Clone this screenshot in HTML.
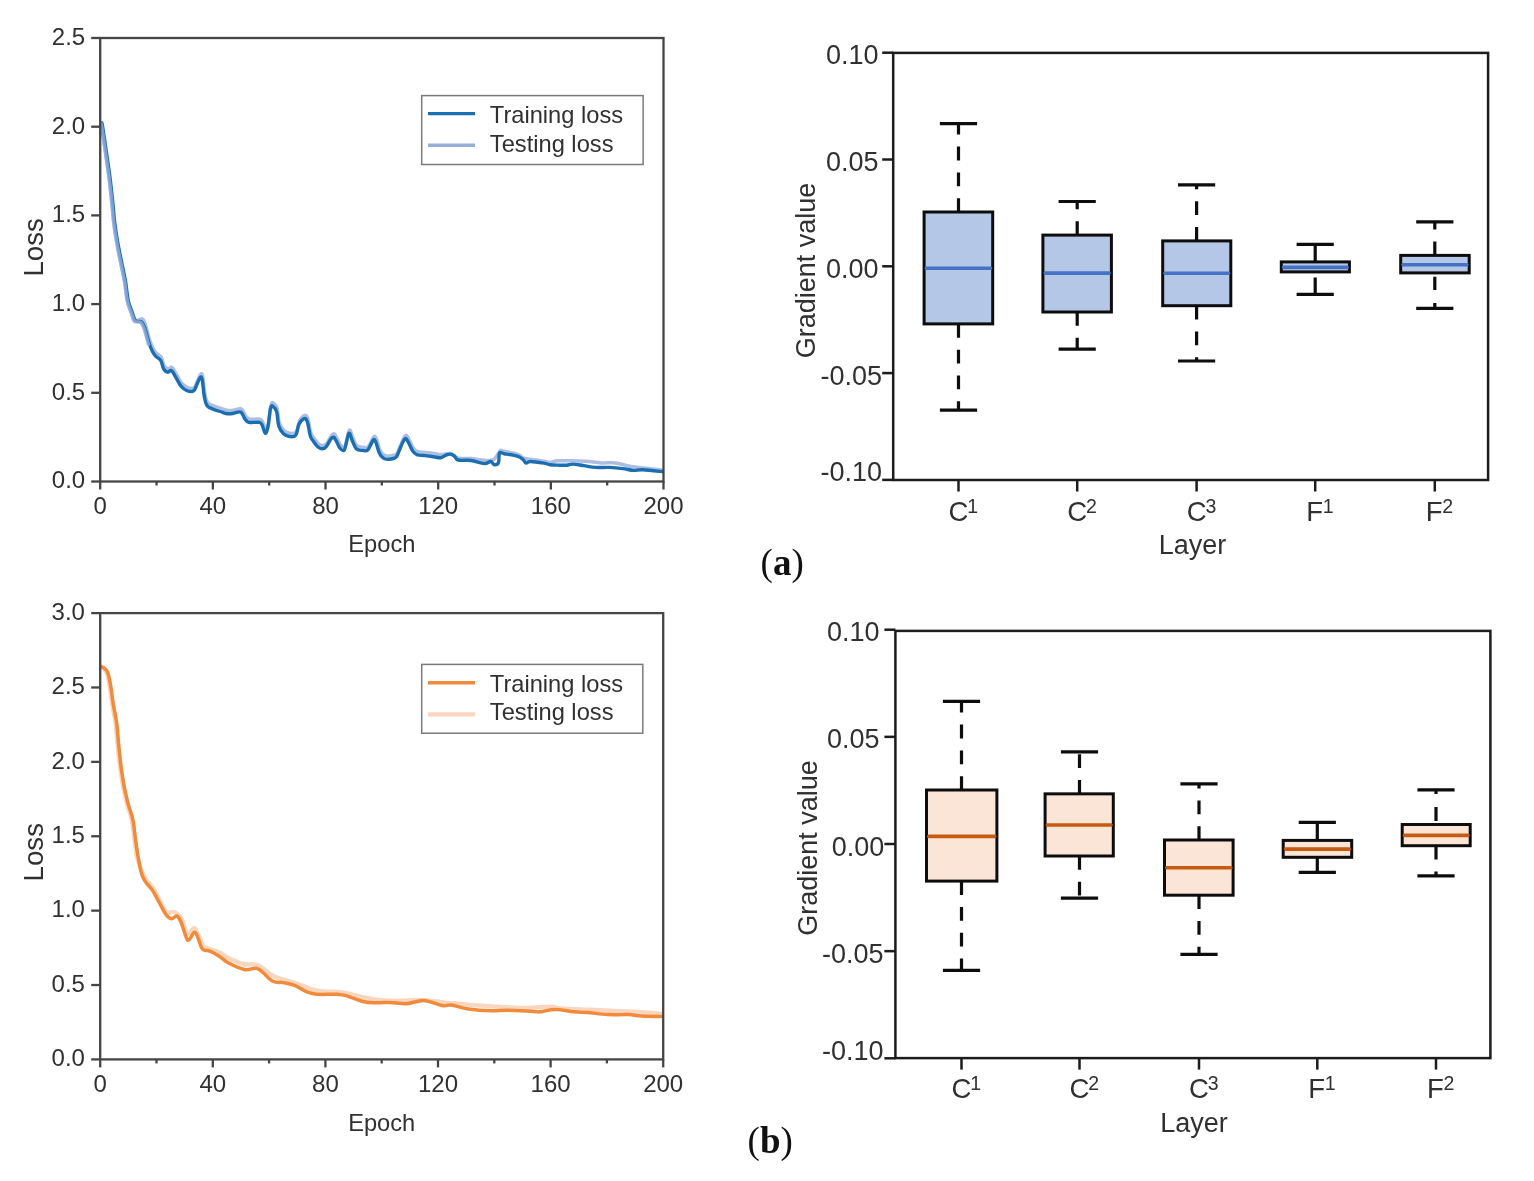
<!DOCTYPE html>
<html><head><meta charset="utf-8"><title>Loss and gradient figure</title>
<style>html,body{margin:0;padding:0;background:#fff;}body{width:1534px;height:1181px;overflow:hidden;}svg{display:block;}</style>
</head><body>
<svg width="1534" height="1181" viewBox="0 0 1534 1181" font-family="'Liberation Sans', Arial, Helvetica, sans-serif" fill="#303030">
<rect width="1534" height="1181" fill="#fff"/>
<clipPath id="c1"><rect x="100.2" y="36" width="563.3" height="444.5"/></clipPath>
<g clip-path="url(#c1)" fill="none" stroke-linejoin="round" stroke-linecap="round">
<path d="M100.3,125.2 C100.5,125.24 100.5,120.7 101.4,125.4 C102.3,130.1 103.88,141.53 105.3,151.3 C106.72,161.07 108.02,169.46 109.3,179.7 C110.58,189.94 111.61,200.53 112.4,208.2 C113.19,215.87 112.96,216.36 113.7,222.3 C114.44,228.24 115.28,234.13 116.5,241.2 C117.72,248.27 119.04,254.27 120.5,261.6 C121.96,268.93 123.38,274.83 124.6,281.9 C125.82,288.97 126.08,295.28 127.3,300.9 C128.52,306.52 130.07,309.45 131.4,313.1 C132.73,316.75 132.76,320.17 134.7,321.2 C136.64,322.23 140.24,318.03 142.2,318.8 C144.16,319.57 144.25,321.61 145.6,325.5 C146.95,329.39 148.37,336.3 149.7,340.4 C151.03,344.5 151.88,346.09 153,348.3 C154.12,350.51 154.41,351.06 155.9,352.7 C157.39,354.34 159.82,355.08 161.3,357.4 C162.78,359.72 162.88,363.51 164.1,365.6 C165.32,367.69 166.64,368.64 168.1,369 C169.56,369.36 170.49,366.27 172.2,367.6 C173.91,368.93 175.89,373.59 177.6,376.4 C179.31,379.21 179.99,381.24 181.7,383.2 C183.41,385.16 184.9,386.45 187.1,387.3 C189.3,388.15 192.08,388.89 193.9,387.9 C195.72,386.91 195.99,384.23 197.2,381.8 C198.41,379.37 199.61,375.37 200.6,374.4 C201.59,373.43 201.96,373.11 202.7,376.4 C203.44,379.69 203.85,388.06 204.7,392.7 C205.55,397.34 205.69,399.77 207.4,402.2 C209.11,404.63 211.75,405.1 214.2,406.2 C216.65,407.3 218.8,407.56 221,408.3 C223.2,409.04 224.2,409.94 226.4,410.3 C228.6,410.66 230.52,410.55 233.2,410.3 C235.88,410.05 239.1,407.93 241.3,408.9 C243.5,409.87 243.94,413.86 245.4,415.7 C246.86,417.54 246.97,418.49 249.4,419.1 C251.83,419.71 256.58,418.74 258.9,419.1 C261.22,419.46 261.08,419.16 262.3,421.1 C263.52,423.04 264.6,429.41 265.7,429.9 C266.8,430.39 267.43,428.3 268.4,423.8 C269.37,419.3 270.13,408.55 271.1,404.9 C272.07,401.25 272.7,402.78 273.8,403.5 C274.9,404.22 276.23,405.48 277.2,408.9 C278.17,412.32 277.98,418.59 279.2,422.5 C280.42,426.41 282.04,428.66 284,430.6 C285.96,432.54 287.9,433.05 290.1,433.3 C292.3,433.55 294.51,434.2 296.2,432 C297.89,429.8 297.97,424.09 299.5,421.1 C301.03,418.11 303.21,415.87 304.7,415.4 C306.19,414.93 306.68,415.31 307.8,418.5 C308.92,421.69 309.77,429.54 310.9,433.1 C312.03,436.66 312.79,436.41 314.1,438.3 C315.41,440.19 316.71,442.29 318.2,443.6 C319.69,444.91 320.89,445.6 322.4,445.6 C323.91,445.6 324.73,445.65 326.6,443.6 C328.47,441.55 331.02,435.33 332.8,434.2 C334.58,433.07 335.19,435.43 336.5,437.3 C337.81,439.17 338.7,442.82 340.1,444.6 C341.5,446.38 343.17,447.76 344.3,447.2 C345.43,446.64 345.46,444.6 346.4,441.5 C347.34,438.4 348.37,430.76 349.5,430 C350.63,429.24 351.39,434.49 352.7,437.3 C354.01,440.11 354.93,443.82 356.8,445.6 C358.67,447.38 361.03,447 363.1,447.2 C365.17,447.4 366.43,448.48 368.3,446.7 C370.17,444.92 372.1,438.81 373.5,437.3 C374.9,435.79 374.97,436.05 376.1,438.3 C377.23,440.55 378.4,446.79 379.8,449.8 C381.2,452.81 382.21,453.87 383.9,455 C385.59,456.13 386.93,456.28 389.2,456.1 C391.47,455.92 394.63,455.51 396.5,454 C398.37,452.49 398.11,450.89 399.6,447.7 C401.09,444.51 403.31,438.17 404.8,436.3 C406.29,434.43 406.41,435.25 407.9,437.3 C409.39,439.35 411.41,445.16 413.1,447.7 C414.79,450.24 415.03,450.55 417.3,451.4 C419.57,452.25 422.69,452.02 425.7,452.4 C428.71,452.78 431.19,453.12 434,453.5 C436.81,453.88 438.42,454.5 441.3,454.5 C444.18,454.5 446.94,452.83 450,453.5 C453.06,454.17 454.54,457.28 458.3,458.2 C462.06,459.12 466.2,458.22 470.9,458.6 C475.6,458.98 480.24,460.17 484.4,460.3 C488.56,460.43 491.19,461.01 494,459.3 C496.81,457.59 498.16,452.24 500,450.8 C501.84,449.36 501,450.67 504.2,451.3 C507.4,451.93 514.42,453.13 517.8,454.3 C521.18,455.47 520.75,456.9 523,457.8 C525.25,458.7 526.54,458.67 530.3,459.3 C534.06,459.93 540.34,460.76 543.9,461.3 C547.46,461.84 547.67,462.39 550.1,462.3 C552.53,462.21 553.82,461.07 557.4,460.8 C560.98,460.53 564.92,460.71 570,460.8 C575.08,460.89 579.93,460.92 585.6,461.3 C591.27,461.68 596.08,462.61 601.5,462.9 C606.92,463.19 610.37,462.27 615.7,462.9 C621.03,463.53 622.41,465.09 631.1,466.4 C639.79,467.71 658.08,469.52 664,470.2" stroke="#97aedd" stroke-width="3.5" stroke-opacity="0.8"/>
<path d="M101.2,124.6 C101.4,124.64 101.4,120.1 102.3,124.8 C103.2,129.5 104.78,140.93 106.2,150.7 C107.62,160.47 108.92,168.86 110.2,179.1 C111.48,189.34 112.51,199.93 113.3,207.6 C114.09,215.27 113.86,215.76 114.6,221.7 C115.34,227.64 116.18,233.53 117.4,240.6 C118.62,247.67 119.94,253.67 121.4,261 C122.86,268.33 124.28,274.23 125.5,281.3 C126.72,288.37 126.98,294.68 128.2,300.3 C129.42,305.92 130.97,308.85 132.3,312.5 C133.63,316.15 133.91,318.89 135.6,320.6 C137.29,322.31 139.99,320.54 141.7,322 C143.41,323.46 143.75,324.81 145.1,328.7 C146.45,332.59 147.87,339.5 149.2,343.6 C150.53,347.7 151.38,349.29 152.5,351.5 C153.62,353.71 153.91,354.26 155.4,355.9 C156.89,357.54 159.32,358.28 160.8,360.6 C162.28,362.92 162.38,366.71 163.6,368.8 C164.82,370.89 166.14,371.84 167.6,372.2 C169.06,372.56 169.99,369.47 171.7,370.8 C173.41,372.13 175.39,376.79 177.1,379.6 C178.81,382.41 179.49,384.44 181.2,386.4 C182.91,388.36 184.4,389.65 186.6,390.5 C188.8,391.35 191.58,392.09 193.4,391.1 C195.22,390.11 195.49,387.43 196.7,385 C197.91,382.57 199.11,378.57 200.1,377.6 C201.09,376.63 201.46,376.31 202.2,379.6 C202.94,382.89 203.35,391.26 204.2,395.9 C205.05,400.54 205.19,402.97 206.9,405.4 C208.61,407.83 211.25,408.3 213.7,409.4 C216.15,410.5 218.3,410.76 220.5,411.5 C222.7,412.24 223.7,413.14 225.9,413.5 C228.1,413.86 230.02,413.75 232.7,413.5 C235.38,413.25 238.6,411.13 240.8,412.1 C243,413.07 243.44,417.06 244.9,418.9 C246.36,420.74 246.47,421.69 248.9,422.3 C251.33,422.91 256.08,421.94 258.4,422.3 C260.72,422.66 260.58,422.36 261.8,424.3 C263.02,426.24 264.1,432.61 265.2,433.1 C266.3,433.59 266.93,431.5 267.9,427 C268.87,422.5 269.63,411.75 270.6,408.1 C271.57,404.45 272.2,405.98 273.3,406.7 C274.4,407.42 275.73,408.68 276.7,412.1 C277.67,415.52 277.48,421.79 278.7,425.7 C279.92,429.61 281.54,431.86 283.5,433.8 C285.46,435.74 287.4,436.25 289.6,436.5 C291.8,436.75 294.01,437.4 295.7,435.2 C297.39,433 297.47,427.29 299,424.3 C300.53,421.31 302.71,419.07 304.2,418.6 C305.69,418.13 306.18,418.51 307.3,421.7 C308.42,424.89 309.27,432.74 310.4,436.3 C311.53,439.86 312.29,439.61 313.6,441.5 C314.91,443.39 316.21,445.49 317.7,446.8 C319.19,448.11 320.39,448.8 321.9,448.8 C323.41,448.8 324.23,448.85 326.1,446.8 C327.97,444.75 330.52,438.53 332.3,437.4 C334.08,436.27 334.69,438.63 336,440.5 C337.31,442.37 338.2,446.02 339.6,447.8 C341,449.58 342.67,450.96 343.8,450.4 C344.93,449.84 344.96,447.8 345.9,444.7 C346.84,441.6 347.87,433.96 349,433.2 C350.13,432.44 350.89,437.69 352.2,440.5 C353.51,443.31 354.43,447.02 356.3,448.8 C358.17,450.58 360.53,450.2 362.6,450.4 C364.67,450.6 365.93,451.68 367.8,449.9 C369.67,448.12 371.6,442.01 373,440.5 C374.4,438.99 374.47,439.25 375.6,441.5 C376.73,443.75 377.9,449.99 379.3,453 C380.7,456.01 381.71,457.07 383.4,458.2 C385.09,459.33 386.43,459.48 388.7,459.3 C390.97,459.12 394.13,458.71 396,457.2 C397.87,455.69 397.61,454.09 399.1,450.9 C400.59,447.71 402.81,441.37 404.3,439.5 C405.79,437.63 405.91,438.45 407.4,440.5 C408.89,442.55 410.91,448.36 412.6,450.9 C414.29,453.44 414.53,453.75 416.8,454.6 C419.07,455.45 422.19,455.22 425.2,455.6 C428.21,455.98 430.69,456.32 433.5,456.7 C436.31,457.08 438.55,457.99 440.8,457.7 C443.05,457.41 444.31,455.75 446,455.1 C447.69,454.45 448.72,453.97 450.2,454.1 C451.68,454.23 452.74,454.74 454.2,455.8 C455.66,456.86 455.29,459.15 458.3,460 C461.31,460.85 466.2,459.85 470.9,460.5 C475.6,461.15 480.84,463.42 484.4,463.6 C487.96,463.78 488.92,461.3 490.7,461.5 C492.48,461.7 492.9,464.5 494.3,464.7 C495.7,464.9 497.56,464.67 498.5,462.6 C499.44,460.53 498.47,454.8 499.5,453.2 C500.53,451.6 500.91,453.14 504.2,453.7 C507.49,454.26 514.42,455.26 517.8,456.3 C521.18,457.34 521.51,458.28 523,459.5 C524.49,460.72 524.79,462.74 526.1,463.1 C527.41,463.46 527.1,461.5 530.3,461.5 C533.5,461.5 540.34,462.52 543.9,463.1 C547.46,463.68 547.29,464.32 550.1,464.7 C552.91,465.08 556.49,465.11 559.5,465.2 C562.51,465.29 564.35,465.4 566.8,465.2 C569.25,465 570.06,464.03 573.1,464.1 C576.14,464.17 579.65,465.01 583.7,465.6 C587.75,466.19 590.9,467.08 595.6,467.4 C600.3,467.72 604.9,467.18 609.8,467.4 C614.7,467.62 618.53,468.06 622.8,468.6 C627.07,469.14 629.86,470.18 633.5,470.4 C637.14,470.62 637.51,469.55 643,469.8 C648.49,470.05 660.22,471.44 664,471.8" stroke="#1b6fb0" stroke-width="3.4"/>
<path d="M100.3,125.2 C100.5,125.24 100.5,120.7 101.4,125.4 C102.3,130.1 103.88,141.53 105.3,151.3 C106.72,161.07 108.02,169.46 109.3,179.7 C110.58,189.94 111.61,200.53 112.4,208.2 C113.19,215.87 112.96,216.36 113.7,222.3 C114.44,228.24 115.28,234.13 116.5,241.2 C117.72,248.27 119.04,254.27 120.5,261.6 C121.96,268.93 123.38,274.83 124.6,281.9 C125.82,288.97 126.08,295.28 127.3,300.9 C128.52,306.52 130.07,309.45 131.4,313.1 C132.73,316.75 133.01,319.49 134.7,321.2 C136.39,322.91 139.09,321.14 140.8,322.6 C142.51,324.06 142.85,325.41 144.2,329.3 C145.55,333.19 147.56,341.52 148.3,344.2" stroke="#97aedd" stroke-width="3.5" stroke-opacity="0.8"/>
</g>
<rect x="100.2" y="38" width="563.3" height="443.5" fill="none" stroke="#454545" stroke-width="2.3"/>
<line x1="91.2" y1="481.5" x2="100.2" y2="481.5" stroke="#454545" stroke-width="2.3"/>
<text transform="translate(85.2,488.3) scale(1.045,1)" text-anchor="end" font-size="23">0.0</text>
<line x1="91.2" y1="392.8" x2="100.2" y2="392.8" stroke="#454545" stroke-width="2.3"/>
<text transform="translate(85.2,399.6) scale(1.045,1)" text-anchor="end" font-size="23">0.5</text>
<line x1="91.2" y1="304.1" x2="100.2" y2="304.1" stroke="#454545" stroke-width="2.3"/>
<text transform="translate(85.2,310.9) scale(1.045,1)" text-anchor="end" font-size="23">1.0</text>
<line x1="91.2" y1="215.4" x2="100.2" y2="215.4" stroke="#454545" stroke-width="2.3"/>
<text transform="translate(85.2,222.2) scale(1.045,1)" text-anchor="end" font-size="23">1.5</text>
<line x1="91.2" y1="126.7" x2="100.2" y2="126.7" stroke="#454545" stroke-width="2.3"/>
<text transform="translate(85.2,133.5) scale(1.045,1)" text-anchor="end" font-size="23">2.0</text>
<line x1="91.2" y1="38" x2="100.2" y2="38" stroke="#454545" stroke-width="2.3"/>
<text transform="translate(85.2,44.8) scale(1.045,1)" text-anchor="end" font-size="23">2.5</text>
<line x1="100.2" y1="481.5" x2="100.2" y2="489.5" stroke="#454545" stroke-width="2.3"/>
<text transform="translate(100.2,514.2) scale(1.045,1)" text-anchor="middle" font-size="23">0</text>
<line x1="156.53" y1="481.5" x2="156.53" y2="485.5" stroke="#454545" stroke-width="2.3"/>
<line x1="212.86" y1="481.5" x2="212.86" y2="489.5" stroke="#454545" stroke-width="2.3"/>
<text transform="translate(212.86,514.2) scale(1.045,1)" text-anchor="middle" font-size="23">40</text>
<line x1="269.19" y1="481.5" x2="269.19" y2="485.5" stroke="#454545" stroke-width="2.3"/>
<line x1="325.52" y1="481.5" x2="325.52" y2="489.5" stroke="#454545" stroke-width="2.3"/>
<text transform="translate(325.52,514.2) scale(1.045,1)" text-anchor="middle" font-size="23">80</text>
<line x1="381.85" y1="481.5" x2="381.85" y2="485.5" stroke="#454545" stroke-width="2.3"/>
<line x1="438.18" y1="481.5" x2="438.18" y2="489.5" stroke="#454545" stroke-width="2.3"/>
<text transform="translate(438.18,514.2) scale(1.045,1)" text-anchor="middle" font-size="23">120</text>
<line x1="494.51" y1="481.5" x2="494.51" y2="485.5" stroke="#454545" stroke-width="2.3"/>
<line x1="550.84" y1="481.5" x2="550.84" y2="489.5" stroke="#454545" stroke-width="2.3"/>
<text transform="translate(550.84,514.2) scale(1.045,1)" text-anchor="middle" font-size="23">160</text>
<line x1="607.17" y1="481.5" x2="607.17" y2="485.5" stroke="#454545" stroke-width="2.3"/>
<line x1="663.5" y1="481.5" x2="663.5" y2="489.5" stroke="#454545" stroke-width="2.3"/>
<text transform="translate(663.5,514.2) scale(1.045,1)" text-anchor="middle" font-size="23">200</text>
<text transform="translate(381.9,552.3) scale(1.03,1)" text-anchor="middle" font-size="23">Epoch</text>
<text transform="translate(43,247.3) rotate(-90)" text-anchor="middle" font-size="27.7">Loss</text>
<rect x="421.7" y="95.6" width="221.4" height="68.9" fill="#fff" stroke="#7a7a7a" stroke-width="1.5"/>
<line x1="428" y1="113.6" x2="475" y2="113.6" stroke="#1b6fb0" stroke-width="3.4"/>
<line x1="428" y1="145.3" x2="475" y2="145.3" stroke="#97aedd" stroke-width="3.5"/>
<text transform="translate(489.8,122.5) scale(1.03,1)" font-size="23">Training loss</text>
<text transform="translate(489.8,151.5) scale(1.03,1)" font-size="23">Testing loss</text>
<clipPath id="c3"><rect x="100.2" y="611.1" width="563" height="447.3"/></clipPath>
<g clip-path="url(#c3)" fill="none" stroke-linejoin="round" stroke-linecap="round">
<path d="M99.4,666.8 C100.14,667.16 102.15,667.59 103.5,668.8 C104.85,670.01 105.8,670.46 106.9,673.5 C108,676.54 108.63,680.08 109.6,685.7 C110.57,691.32 111.2,697.86 112.3,704.7 C113.4,711.54 114.73,716.37 115.7,723.7 C116.67,731.03 116.85,737.12 117.7,745.4 C118.55,753.68 119.37,762.03 120.4,769.7 C121.43,777.37 122.19,781.81 123.4,788 C124.61,794.19 125.57,798.29 127.1,804.1 C128.63,809.91 130.55,813.73 131.9,820.3 C133.25,826.87 133.63,833.76 134.6,840.6 C135.57,847.44 135.97,852.74 137.3,858.3 C138.63,863.86 140.43,867.67 142,871.5 C143.57,875.33 144.06,876.67 146,879.6 C147.94,882.53 150.35,884.13 152.8,887.8 C155.25,891.47 157.15,895.61 159.6,900 C162.05,904.39 163.77,910.04 166.4,912.2 C169.03,914.36 171.57,910.96 174.2,912 C176.83,913.04 178.8,914.4 181,918 C183.2,921.6 184.94,929.3 186.4,932 C187.86,934.7 187.64,933.68 189.1,933 C190.56,932.32 192.92,928.02 194.5,928.2 C196.08,928.38 196.37,930.87 197.9,934 C199.43,937.13 201.45,943.13 203,945.6 C204.55,948.07 203.51,946.44 206.5,947.7 C209.49,948.96 215.6,950.73 219.6,952.6 C223.6,954.47 224.49,956.05 228.7,958.1 C232.91,960.15 238.09,962.83 243,964 C247.91,965.17 252.4,963.77 256,964.6 C259.6,965.43 259.71,966.48 263,968.6 C266.29,970.72 268.74,973.88 274.3,976.4 C279.86,978.92 286.16,980.03 293.9,982.6 C301.64,985.17 308.39,988.9 317.3,990.7 C326.21,992.5 334,991.2 343.4,992.6 C352.8,994 361.11,997.04 369.5,998.5 C377.89,999.96 380.21,1000.41 390,1000.7 C399.79,1000.99 414,999.76 423.9,1000.1 C433.8,1000.44 437.03,1001.79 445,1002.6 C452.97,1003.41 454.63,1003.65 468.2,1004.6 C481.77,1005.55 505.6,1007.54 520.4,1007.9 C535.2,1008.26 543.27,1006.51 550.4,1006.6 C557.53,1006.69 552.87,1007.82 560,1008.4 C567.13,1008.98 581,1009.39 590,1009.8 C599,1010.21 600.82,1010.29 610,1010.7 C619.18,1011.11 631.28,1011.49 641,1012.1 C650.72,1012.71 659.86,1013.74 664,1014.1" stroke="#f9d6bd" stroke-width="4.4" stroke-opacity="1"/>
<path d="M100.4,666.3 C101.14,666.66 103.15,667.09 104.5,668.3 C105.85,669.51 106.8,669.96 107.9,673 C109,676.04 109.63,679.58 110.6,685.2 C111.57,690.82 112.2,697.36 113.3,704.2 C114.4,711.04 115.73,715.87 116.7,723.2 C117.67,730.53 117.85,736.62 118.7,744.9 C119.55,753.18 120.37,761.53 121.4,769.2 C122.43,776.87 123.19,781.31 124.4,787.5 C125.61,793.69 126.57,797.79 128.1,803.6 C129.63,809.41 131.55,813.23 132.9,819.8 C134.25,826.37 134.63,833.26 135.6,840.1 C136.57,846.94 137.2,851.7 138.3,857.8 C139.4,863.9 140.37,869.63 141.7,874 C143.03,878.37 143.76,879.17 145.7,882.1 C147.64,885.03 150.05,886.63 152.5,890.3 C154.95,893.97 156.85,898.11 159.3,902.5 C161.75,906.89 163.9,911.78 166.1,914.7 C168.3,917.62 169.56,918.47 171.5,918.7 C173.44,918.93 175.19,915.39 176.9,916 C178.61,916.61 179.29,918.19 181,922.1 C182.71,926.01 184.94,934.53 186.4,937.7 C187.86,940.87 187.64,940.67 189.1,939.7 C190.56,938.73 192.92,932.66 194.5,932.3 C196.08,931.94 196.68,935.02 197.9,937.7 C199.12,940.38 200.22,944.99 201.3,947.2 C202.38,949.41 202.26,949.26 203.9,950 C205.54,950.74 207.57,950.13 210.4,951.3 C213.23,952.47 216.31,954.39 219.6,956.5 C222.89,958.61 224.25,960.66 228.7,963 C233.15,965.34 239.37,968.56 244.3,969.5 C249.23,970.44 252.81,967.71 256.1,968.2 C259.39,968.69 259.56,969.84 262.6,972.2 C265.64,974.56 269.26,979.43 273,981.3 C276.74,983.17 279.64,981.9 283.4,982.6 C287.16,983.3 289.44,983.44 293.9,985.2 C298.36,986.96 303.99,990.76 308.2,992.4 C312.41,994.04 312.13,993.96 317.3,994.3 C322.47,994.64 331.73,994.07 336.9,994.3 C342.07,994.53 341.3,994.3 346,995.6 C350.7,996.9 357.6,1000.2 363,1001.5 C368.4,1002.8 371.14,1002.64 376,1002.8 C380.86,1002.96 384.42,1002.24 390,1002.4 C395.58,1002.56 400.9,1004.06 407,1003.7 C413.1,1003.34 417.56,1000.06 423.9,1000.4 C430.24,1000.74 437.27,1004.77 442.2,1005.6 C447.13,1006.43 446.62,1004.41 451.3,1005 C455.98,1005.59 460.93,1007.86 468.2,1008.9 C475.47,1009.94 484.66,1010.57 491.7,1010.8 C498.74,1011.03 499.79,1010.07 507.3,1010.2 C514.81,1010.33 527.51,1011.21 533.4,1011.5 C539.29,1011.79 536,1012.16 540,1011.8 C544,1011.44 549.5,1009.5 555.6,1009.5 C561.7,1009.5 568.18,1011.26 573.9,1011.8 C579.62,1012.34 581.32,1012 587.4,1012.5 C593.48,1013 600.39,1014.22 607.7,1014.6 C615.01,1014.98 621.9,1014.37 628,1014.6 C634.1,1014.83 635.12,1015.56 641.6,1015.9 C648.08,1016.24 659.97,1016.39 664,1016.5" stroke="#f28a3c" stroke-width="3.5"/>
</g>
<rect x="100.2" y="613.1" width="563" height="446.3" fill="none" stroke="#454545" stroke-width="2.3"/>
<line x1="91.2" y1="1059.4" x2="100.2" y2="1059.4" stroke="#454545" stroke-width="2.3"/>
<text transform="translate(85,1066.2) scale(1.045,1)" text-anchor="end" font-size="23">0.0</text>
<line x1="91.2" y1="985.02" x2="100.2" y2="985.02" stroke="#454545" stroke-width="2.3"/>
<text transform="translate(85,991.82) scale(1.045,1)" text-anchor="end" font-size="23">0.5</text>
<line x1="91.2" y1="910.63" x2="100.2" y2="910.63" stroke="#454545" stroke-width="2.3"/>
<text transform="translate(85,917.43) scale(1.045,1)" text-anchor="end" font-size="23">1.0</text>
<line x1="91.2" y1="836.25" x2="100.2" y2="836.25" stroke="#454545" stroke-width="2.3"/>
<text transform="translate(85,843.05) scale(1.045,1)" text-anchor="end" font-size="23">1.5</text>
<line x1="91.2" y1="761.87" x2="100.2" y2="761.87" stroke="#454545" stroke-width="2.3"/>
<text transform="translate(85,768.67) scale(1.045,1)" text-anchor="end" font-size="23">2.0</text>
<line x1="91.2" y1="687.48" x2="100.2" y2="687.48" stroke="#454545" stroke-width="2.3"/>
<text transform="translate(85,694.28) scale(1.045,1)" text-anchor="end" font-size="23">2.5</text>
<line x1="91.2" y1="613.1" x2="100.2" y2="613.1" stroke="#454545" stroke-width="2.3"/>
<text transform="translate(85,619.9) scale(1.045,1)" text-anchor="end" font-size="23">3.0</text>
<line x1="100.2" y1="1059.4" x2="100.2" y2="1067.4" stroke="#454545" stroke-width="2.3"/>
<text transform="translate(100.2,1092.3) scale(1.045,1)" text-anchor="middle" font-size="23">0</text>
<line x1="156.5" y1="1059.4" x2="156.5" y2="1063.4" stroke="#454545" stroke-width="2.3"/>
<line x1="212.8" y1="1059.4" x2="212.8" y2="1067.4" stroke="#454545" stroke-width="2.3"/>
<text transform="translate(212.8,1092.3) scale(1.045,1)" text-anchor="middle" font-size="23">40</text>
<line x1="269.1" y1="1059.4" x2="269.1" y2="1063.4" stroke="#454545" stroke-width="2.3"/>
<line x1="325.4" y1="1059.4" x2="325.4" y2="1067.4" stroke="#454545" stroke-width="2.3"/>
<text transform="translate(325.4,1092.3) scale(1.045,1)" text-anchor="middle" font-size="23">80</text>
<line x1="381.7" y1="1059.4" x2="381.7" y2="1063.4" stroke="#454545" stroke-width="2.3"/>
<line x1="438" y1="1059.4" x2="438" y2="1067.4" stroke="#454545" stroke-width="2.3"/>
<text transform="translate(438,1092.3) scale(1.045,1)" text-anchor="middle" font-size="23">120</text>
<line x1="494.3" y1="1059.4" x2="494.3" y2="1063.4" stroke="#454545" stroke-width="2.3"/>
<line x1="550.6" y1="1059.4" x2="550.6" y2="1067.4" stroke="#454545" stroke-width="2.3"/>
<text transform="translate(550.6,1092.3) scale(1.045,1)" text-anchor="middle" font-size="23">160</text>
<line x1="606.9" y1="1059.4" x2="606.9" y2="1063.4" stroke="#454545" stroke-width="2.3"/>
<line x1="663.2" y1="1059.4" x2="663.2" y2="1067.4" stroke="#454545" stroke-width="2.3"/>
<text transform="translate(663.2,1092.3) scale(1.045,1)" text-anchor="middle" font-size="23">200</text>
<text transform="translate(381.7,1130.9) scale(1.03,1)" text-anchor="middle" font-size="23">Epoch</text>
<text transform="translate(42.9,852.2) rotate(-90)" text-anchor="middle" font-size="27.7">Loss</text>
<rect x="421.7" y="664.4" width="221.1" height="68.8" fill="#fff" stroke="#7a7a7a" stroke-width="1.5"/>
<line x1="428" y1="682.7" x2="475" y2="682.7" stroke="#f28a3c" stroke-width="3.5"/>
<line x1="428" y1="714.4" x2="475" y2="714.4" stroke="#f9d6bd" stroke-width="4.4"/>
<text transform="translate(489.8,691.8) scale(1.03,1)" font-size="23">Training loss</text>
<text transform="translate(489.8,720.4) scale(1.03,1)" font-size="23">Testing loss</text>
<rect x="893.2" y="52.9" width="594.9" height="427.1" fill="none" stroke="#1c1c1c" stroke-width="2.5"/>
<line x1="882.2" y1="52.7" x2="893.2" y2="52.7" stroke="#1c1c1c" stroke-width="2.5"/>
<text x="878.5" y="64.3" text-anchor="end" font-size="27">0.10</text>
<line x1="882.2" y1="159.5" x2="893.2" y2="159.5" stroke="#1c1c1c" stroke-width="2.5"/>
<text x="878.5" y="171.1" text-anchor="end" font-size="27">0.05</text>
<line x1="882.2" y1="266.3" x2="893.2" y2="266.3" stroke="#1c1c1c" stroke-width="2.5"/>
<text x="878.5" y="277.9" text-anchor="end" font-size="27">0.00</text>
<line x1="882.2" y1="373.1" x2="893.2" y2="373.1" stroke="#1c1c1c" stroke-width="2.5"/>
<text x="882" y="384.7" text-anchor="end" font-size="27">-0.05</text>
<line x1="882.2" y1="479.9" x2="893.2" y2="479.9" stroke="#1c1c1c" stroke-width="2.5"/>
<text x="882" y="481.3" text-anchor="end" font-size="27">-0.10</text>
<line x1="958.5" y1="480" x2="958.5" y2="491.5" stroke="#1c1c1c" stroke-width="2.5"/>
<text x="958.5" y="521.2" font-size="27.5" text-anchor="middle">C</text>
<text x="967.3" y="512.5" font-size="19.5">1</text>
<line x1="958.5" y1="212" x2="958.5" y2="123.7" stroke="#0d0d0d" stroke-width="3.2" stroke-dasharray="13.8 12"/>
<line x1="958.5" y1="323.9" x2="958.5" y2="410.2" stroke="#0d0d0d" stroke-width="3.2" stroke-dasharray="13.8 12"/>
<line x1="939.9" y1="123.7" x2="977.1" y2="123.7" stroke="#0d0d0d" stroke-width="3.2"/>
<line x1="939.9" y1="410.2" x2="977.1" y2="410.2" stroke="#0d0d0d" stroke-width="3.2"/>
<rect x="924.1" y="212" width="68.6" height="111.9" fill="#b4c7e7" stroke="#0d0d0d" stroke-width="3"/>
<line x1="926.4" y1="268.3" x2="990.4" y2="268.3" stroke="#4472c4" stroke-width="3.6" stroke-linecap="round"/>
<line x1="1077.2" y1="480" x2="1077.2" y2="491.5" stroke="#1c1c1c" stroke-width="2.5"/>
<text x="1077.2" y="521.2" font-size="27.5" text-anchor="middle">C</text>
<text x="1086" y="512.5" font-size="19.5">2</text>
<line x1="1077.2" y1="235.1" x2="1077.2" y2="201.5" stroke="#0d0d0d" stroke-width="3.2" stroke-dasharray="13.8 12"/>
<line x1="1077.2" y1="312" x2="1077.2" y2="349.2" stroke="#0d0d0d" stroke-width="3.2" stroke-dasharray="13.8 12"/>
<line x1="1058.6" y1="201.5" x2="1095.8" y2="201.5" stroke="#0d0d0d" stroke-width="3.2"/>
<line x1="1058.6" y1="349.2" x2="1095.8" y2="349.2" stroke="#0d0d0d" stroke-width="3.2"/>
<rect x="1042.9" y="235.1" width="68.5" height="76.9" fill="#b4c7e7" stroke="#0d0d0d" stroke-width="3"/>
<line x1="1045.2" y1="273.1" x2="1109.1" y2="273.1" stroke="#4472c4" stroke-width="3.6" stroke-linecap="round"/>
<line x1="1196.6" y1="480" x2="1196.6" y2="491.5" stroke="#1c1c1c" stroke-width="2.5"/>
<text x="1196.6" y="521.2" font-size="27.5" text-anchor="middle">C</text>
<text x="1205.4" y="512.5" font-size="19.5">3</text>
<line x1="1196.6" y1="240.9" x2="1196.6" y2="184.9" stroke="#0d0d0d" stroke-width="3.2" stroke-dasharray="13.8 12"/>
<line x1="1196.6" y1="305.7" x2="1196.6" y2="361" stroke="#0d0d0d" stroke-width="3.2" stroke-dasharray="13.8 12"/>
<line x1="1178" y1="184.9" x2="1215.2" y2="184.9" stroke="#0d0d0d" stroke-width="3.2"/>
<line x1="1178" y1="361" x2="1215.2" y2="361" stroke="#0d0d0d" stroke-width="3.2"/>
<rect x="1162.7" y="240.9" width="68.1" height="64.8" fill="#b4c7e7" stroke="#0d0d0d" stroke-width="3"/>
<line x1="1165" y1="273.2" x2="1228.5" y2="273.2" stroke="#4472c4" stroke-width="3.6" stroke-linecap="round"/>
<line x1="1315.2" y1="480" x2="1315.2" y2="491.5" stroke="#1c1c1c" stroke-width="2.5"/>
<text x="1314.6" y="521.2" font-size="27.5" text-anchor="middle">F</text>
<text x="1322.7" y="512.5" font-size="19.5">1</text>
<line x1="1315.2" y1="261.9" x2="1315.2" y2="244.4" stroke="#0d0d0d" stroke-width="3.2"/>
<line x1="1315.2" y1="271.9" x2="1315.2" y2="294.3" stroke="#0d0d0d" stroke-width="3.2" stroke-dasharray="0 5.6 40"/>
<line x1="1296.6" y1="244.4" x2="1333.8" y2="244.4" stroke="#0d0d0d" stroke-width="3.2"/>
<line x1="1296.6" y1="294.3" x2="1333.8" y2="294.3" stroke="#0d0d0d" stroke-width="3.2"/>
<rect x="1281.3" y="261.9" width="68.1" height="10" fill="#b4c7e7" stroke="#0d0d0d" stroke-width="3"/>
<line x1="1283.6" y1="267.4" x2="1347.1" y2="267.4" stroke="#4472c4" stroke-width="3.6" stroke-linecap="round"/>
<line x1="1434.8" y1="480" x2="1434.8" y2="491.5" stroke="#1c1c1c" stroke-width="2.5"/>
<text x="1434.2" y="521.2" font-size="27.5" text-anchor="middle">F</text>
<text x="1442.3" y="512.5" font-size="19.5">2</text>
<line x1="1434.8" y1="255.4" x2="1434.8" y2="221.9" stroke="#0d0d0d" stroke-width="3.2" stroke-dasharray="13.8 12"/>
<line x1="1434.8" y1="272.9" x2="1434.8" y2="308.3" stroke="#0d0d0d" stroke-width="3.2" stroke-dasharray="0 3.8 13.2 13 30"/>
<line x1="1416.2" y1="221.9" x2="1453.4" y2="221.9" stroke="#0d0d0d" stroke-width="3.2"/>
<line x1="1416.2" y1="308.3" x2="1453.4" y2="308.3" stroke="#0d0d0d" stroke-width="3.2"/>
<rect x="1400.7" y="255.4" width="68.5" height="17.5" fill="#b4c7e7" stroke="#0d0d0d" stroke-width="3"/>
<line x1="1403" y1="264.8" x2="1466.9" y2="264.8" stroke="#4472c4" stroke-width="3.6" stroke-linecap="round"/>
<text x="1192.5" y="554.4" text-anchor="middle" font-size="27">Layer</text>
<text transform="translate(815.4,270.5) rotate(-90)" text-anchor="middle" font-size="27">Gradient value</text>
<rect x="895.4" y="630.9" width="595" height="427.2" fill="none" stroke="#1c1c1c" stroke-width="2.5"/>
<line x1="884.4" y1="629.7" x2="895.4" y2="629.7" stroke="#1c1c1c" stroke-width="2.5"/>
<text x="879.6" y="641.3" text-anchor="end" font-size="27">0.10</text>
<line x1="884.4" y1="736.85" x2="895.4" y2="736.85" stroke="#1c1c1c" stroke-width="2.5"/>
<text x="879.6" y="748.45" text-anchor="end" font-size="27">0.05</text>
<line x1="884.4" y1="844" x2="895.4" y2="844" stroke="#1c1c1c" stroke-width="2.5"/>
<text x="884.2" y="855.6" text-anchor="end" font-size="27">0.00</text>
<line x1="884.4" y1="951.15" x2="895.4" y2="951.15" stroke="#1c1c1c" stroke-width="2.5"/>
<text x="883.5" y="962.75" text-anchor="end" font-size="27">-0.05</text>
<line x1="884.4" y1="1058.3" x2="895.4" y2="1058.3" stroke="#1c1c1c" stroke-width="2.5"/>
<text x="883.5" y="1059.7" text-anchor="end" font-size="27">-0.10</text>
<line x1="961.5" y1="1058.1" x2="961.5" y2="1069.6" stroke="#1c1c1c" stroke-width="2.5"/>
<text x="961.5" y="1098.4" font-size="27.5" text-anchor="middle">C</text>
<text x="970.3" y="1089.7" font-size="19.5">1</text>
<line x1="961.5" y1="790" x2="961.5" y2="701.4" stroke="#0d0d0d" stroke-width="3.2" stroke-dasharray="13.8 12"/>
<line x1="961.5" y1="881.1" x2="961.5" y2="970.3" stroke="#0d0d0d" stroke-width="3.2" stroke-dasharray="13.8 12"/>
<line x1="942.9" y1="701.4" x2="980.1" y2="701.4" stroke="#0d0d0d" stroke-width="3.2"/>
<line x1="942.9" y1="970.3" x2="980.1" y2="970.3" stroke="#0d0d0d" stroke-width="3.2"/>
<rect x="926.5" y="790" width="70.4" height="91.1" fill="#fbe5d6" stroke="#0d0d0d" stroke-width="3"/>
<line x1="928.8" y1="836.4" x2="994.6" y2="836.4" stroke="#c55a11" stroke-width="3.6" stroke-linecap="round"/>
<line x1="1079.5" y1="1058.1" x2="1079.5" y2="1069.6" stroke="#1c1c1c" stroke-width="2.5"/>
<text x="1079.5" y="1098.4" font-size="27.5" text-anchor="middle">C</text>
<text x="1088.3" y="1089.7" font-size="19.5">2</text>
<line x1="1079.5" y1="793.85" x2="1079.5" y2="751.9" stroke="#0d0d0d" stroke-width="3.2" stroke-dasharray="13.8 12"/>
<line x1="1079.5" y1="856" x2="1079.5" y2="898.2" stroke="#0d0d0d" stroke-width="3.2" stroke-dasharray="13.8 12"/>
<line x1="1060.9" y1="751.9" x2="1098.1" y2="751.9" stroke="#0d0d0d" stroke-width="3.2"/>
<line x1="1060.9" y1="898.2" x2="1098.1" y2="898.2" stroke="#0d0d0d" stroke-width="3.2"/>
<rect x="1045.1" y="793.85" width="68.2" height="62.15" fill="#fbe5d6" stroke="#0d0d0d" stroke-width="3"/>
<line x1="1047.4" y1="825" x2="1111" y2="825" stroke="#c55a11" stroke-width="3.6" stroke-linecap="round"/>
<line x1="1199" y1="1058.1" x2="1199" y2="1069.6" stroke="#1c1c1c" stroke-width="2.5"/>
<text x="1199" y="1098.4" font-size="27.5" text-anchor="middle">C</text>
<text x="1207.8" y="1089.7" font-size="19.5">3</text>
<line x1="1199" y1="840" x2="1199" y2="783.9" stroke="#0d0d0d" stroke-width="3.2" stroke-dasharray="13.8 12"/>
<line x1="1199" y1="895.2" x2="1199" y2="954.3" stroke="#0d0d0d" stroke-width="3.2" stroke-dasharray="13.8 12"/>
<line x1="1180.4" y1="783.9" x2="1217.6" y2="783.9" stroke="#0d0d0d" stroke-width="3.2"/>
<line x1="1180.4" y1="954.3" x2="1217.6" y2="954.3" stroke="#0d0d0d" stroke-width="3.2"/>
<rect x="1164.5" y="840" width="68.6" height="55.2" fill="#fbe5d6" stroke="#0d0d0d" stroke-width="3"/>
<line x1="1166.8" y1="867.7" x2="1230.8" y2="867.7" stroke="#c55a11" stroke-width="3.6" stroke-linecap="round"/>
<line x1="1317.3" y1="1058.1" x2="1317.3" y2="1069.6" stroke="#1c1c1c" stroke-width="2.5"/>
<text x="1316.7" y="1098.4" font-size="27.5" text-anchor="middle">F</text>
<text x="1324.8" y="1089.7" font-size="19.5">1</text>
<line x1="1317.3" y1="840.4" x2="1317.3" y2="822.4" stroke="#0d0d0d" stroke-width="3.2"/>
<line x1="1317.3" y1="857.3" x2="1317.3" y2="872.4" stroke="#0d0d0d" stroke-width="3.2"/>
<line x1="1298.7" y1="822.4" x2="1335.9" y2="822.4" stroke="#0d0d0d" stroke-width="3.2"/>
<line x1="1298.7" y1="872.4" x2="1335.9" y2="872.4" stroke="#0d0d0d" stroke-width="3.2"/>
<rect x="1283.2" y="840.4" width="68.5" height="16.9" fill="#fbe5d6" stroke="#0d0d0d" stroke-width="3"/>
<line x1="1285.5" y1="849.1" x2="1349.4" y2="849.1" stroke="#c55a11" stroke-width="3.6" stroke-linecap="round"/>
<line x1="1436" y1="1058.1" x2="1436" y2="1069.6" stroke="#1c1c1c" stroke-width="2.5"/>
<text x="1435.4" y="1098.4" font-size="27.5" text-anchor="middle">F</text>
<text x="1443.5" y="1089.7" font-size="19.5">2</text>
<line x1="1436" y1="824.5" x2="1436" y2="789.9" stroke="#0d0d0d" stroke-width="3.2" stroke-dasharray="0 3.4 14 13 30"/>
<line x1="1436" y1="845.7" x2="1436" y2="875.8" stroke="#0d0d0d" stroke-width="3.2" stroke-dasharray="13.8 12"/>
<line x1="1417.4" y1="789.9" x2="1454.6" y2="789.9" stroke="#0d0d0d" stroke-width="3.2"/>
<line x1="1417.4" y1="875.8" x2="1454.6" y2="875.8" stroke="#0d0d0d" stroke-width="3.2"/>
<rect x="1402.2" y="824.5" width="68" height="21.2" fill="#fbe5d6" stroke="#0d0d0d" stroke-width="3"/>
<line x1="1404.5" y1="835.4" x2="1467.9" y2="835.4" stroke="#c55a11" stroke-width="3.6" stroke-linecap="round"/>
<text x="1194" y="1132.3" text-anchor="middle" font-size="27">Layer</text>
<text transform="translate(816.9,848) rotate(-90)" text-anchor="middle" font-size="27">Gradient value</text>
<text x="760.6" y="574.8" font-family="'Liberation Serif', 'Times New Roman', serif" font-size="37" fill="#111">(<tspan font-weight="bold">a</tspan>)</text>
<text x="747.6" y="1153.3" font-family="'Liberation Serif', 'Times New Roman', serif" font-size="37" fill="#111">(<tspan font-weight="bold">b</tspan>)</text>
</svg>
</body></html>
